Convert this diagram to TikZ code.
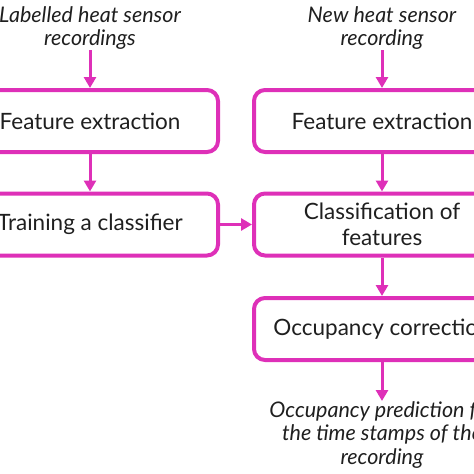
\documentclass[tikz,border=0pt]{standalone}
\usepackage{fontspec}
\setmainfont{Lato}
\usetikzlibrary{arrows.meta}
\definecolor{pinkline}{RGB}{222,48,184}
\begin{document}
\begin{tikzpicture}[x=1pt,y=-1pt,line join=round,font=\fontsize{22.5}{26}\selectfont,
	stepbox/.style={draw=pinkline,line width=4pt,rounded corners=11pt,minimum width=256pt,minimum height=62pt,align=center,text=black!88},
	intext/.style={align=center,font=\fontsize{21.5}{23.5}\selectfont\itshape,text=black!88},
	flow/.style={draw=pinkline,line width=3pt,-{Triangle[length=11pt,width=12pt]}}]
		\useasboundingbox (0,0) rectangle (474,474);
		\clip (0,0) rectangle (474,474);
		% left column
		\node[intext] (lin) at (90,28) {Labelled heat sensor\\recordings};
		\node[stepbox] (lfeat) at (90,121) {Feature extraction};
		\node[stepbox] (train) at (90,224.5) {Training a classifier};
		% right column
		\node[intext] (rin) at (382,28) {New heat sensor\\recording};
		\node[stepbox] (rfeat) at (382,121) {Feature extraction};
		\node[stepbox] (classify) at (382,224.5) {Classification of\\features};
		\node[stepbox] (correct) at (382,329) {Occupancy correction};
		\node[intext] (out) at (382,435) {Occupancy prediction for\\the time stamps of the\\recording};
		\draw[flow] (90,50)--(lfeat);
		\draw[flow] (lfeat)--(train);
		\draw[flow] (382,50)--(rfeat);
		\draw[flow] (rfeat)--(classify);
		\draw[flow] (train)--(classify);
		\draw[flow] (classify)--(correct);
		\draw[flow] (correct)--(382,401);
	\end{tikzpicture}
\end{document}
